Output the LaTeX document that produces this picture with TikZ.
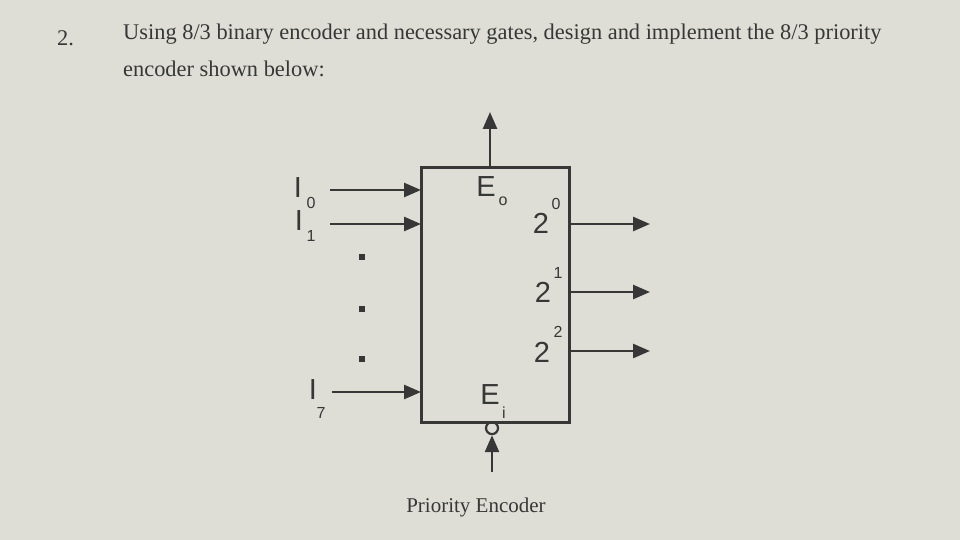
\documentclass[tikz,border=0pt]{standalone}
\usepackage{fontspec}
\setmainfont{Liberation Serif}
\newfontfamily\lab{Liberation Sans}
\usetikzlibrary{arrows.meta}
\definecolor{bg}{RGB}{222,222,214}
\definecolor{ink}{RGB}{55,55,55}
\tikzset{
  wire/.style={draw=ink,line width=2.6pt,-{Triangle[length=17pt,width=14pt]}},
  lbl/.style={font=\lab\fontsize{29}{29}\selectfont,text=ink,inner sep=0},
  sub/.style={font=\lab\fontsize{16}{16}\selectfont,text=ink,inner sep=0},
  dotm/.style={fill=ink,minimum size=6pt,inner sep=0},
  hdr/.style={anchor=base west,inner sep=0,font=\fontsize{22.4}{22.4}\selectfont,text=ink},
}
\begin{document}
\begin{tikzpicture}[x=1pt,y=-1pt]
\fill[bg] (0,0) rectangle (960,540);
\useasboundingbox (0,0) rectangle (960,540);
\node[hdr] (num) at (57,46) {2.};
\node[hdr] (l1) at (123,40) {Using 8/3 binary encoder and necessary gates, design and implement the 8/3 priority};
\node[hdr] (l2) at (123,77) {encoder shown below:};
\node[draw=ink,line width=2.6pt,minimum width=148pt,minimum height=255pt,anchor=north west,inner sep=0] (box) at (420,166) {};
\coordinate (top) at (490,112);
\draw[wire] (box.north -| top) -- (top);
% inputs
\coordinate (a0) at (330,190); \coordinate (b0) at (421,190);
\coordinate (a1) at (330,224); \coordinate (b1) at (421,224);
\coordinate (a7) at (332,392); \coordinate (b7) at (421,392);
\draw[wire] (a0) -- (b0);
\draw[wire] (a1) -- (b1);
\draw[wire] (a7) -- (b7);
\node[lbl] (i0) at (298,188) {I};
\node[sub] (i0s) at (311,203) {0};
\node[lbl] (i1) at (299,221) {I};
\node[sub] (i1s) at (311,236) {1};
\node[lbl] (i7) at (313,390) {I};
\node[sub] (i7s) at (321,413) {7};
\node[dotm] (d1) at (362,257) {};
\node[dotm] (d2) at (362,309) {};
\node[dotm] (d3) at (362,359) {};
% outputs
\coordinate (o0) at (568,224); \coordinate (p0) at (650,224);
\coordinate (o1) at (568,292); \coordinate (p1) at (650,292);
\coordinate (o2) at (568,351); \coordinate (p2) at (650,351);
\draw[wire] (o0) -- (p0);
\draw[wire] (o1) -- (p1);
\draw[wire] (o2) -- (p2);
\node[lbl] (t0) at (541,223) {2};
\node[sub] (t0s) at (556,204) {0};
\node[lbl] (t1) at (543,292) {2};
\node[sub] (t1s) at (558,273) {1};
\node[lbl] (t2) at (542,352) {2};
\node[sub] (t2s) at (558,332) {2};
\node[lbl] (eo) at (486,187) {E};
\node[sub] (eos) at (503,201) {o};
\node[lbl] (ei) at (490,395) {E};
\node[sub] (eis) at (504,413) {i};
\node[draw=ink,line width=2.2pt,circle,minimum size=12pt,inner sep=0,anchor=north] (bub) at (492,421) {};
\coordinate (bot) at (492,472);
\draw[wire] (bot) -- (bub.south);
\node[anchor=base,inner sep=0,font=\fontsize{21}{21}\selectfont,text=ink] (pe) at (476,512) {Priority Encoder};
\end{tikzpicture}
\end{document}
